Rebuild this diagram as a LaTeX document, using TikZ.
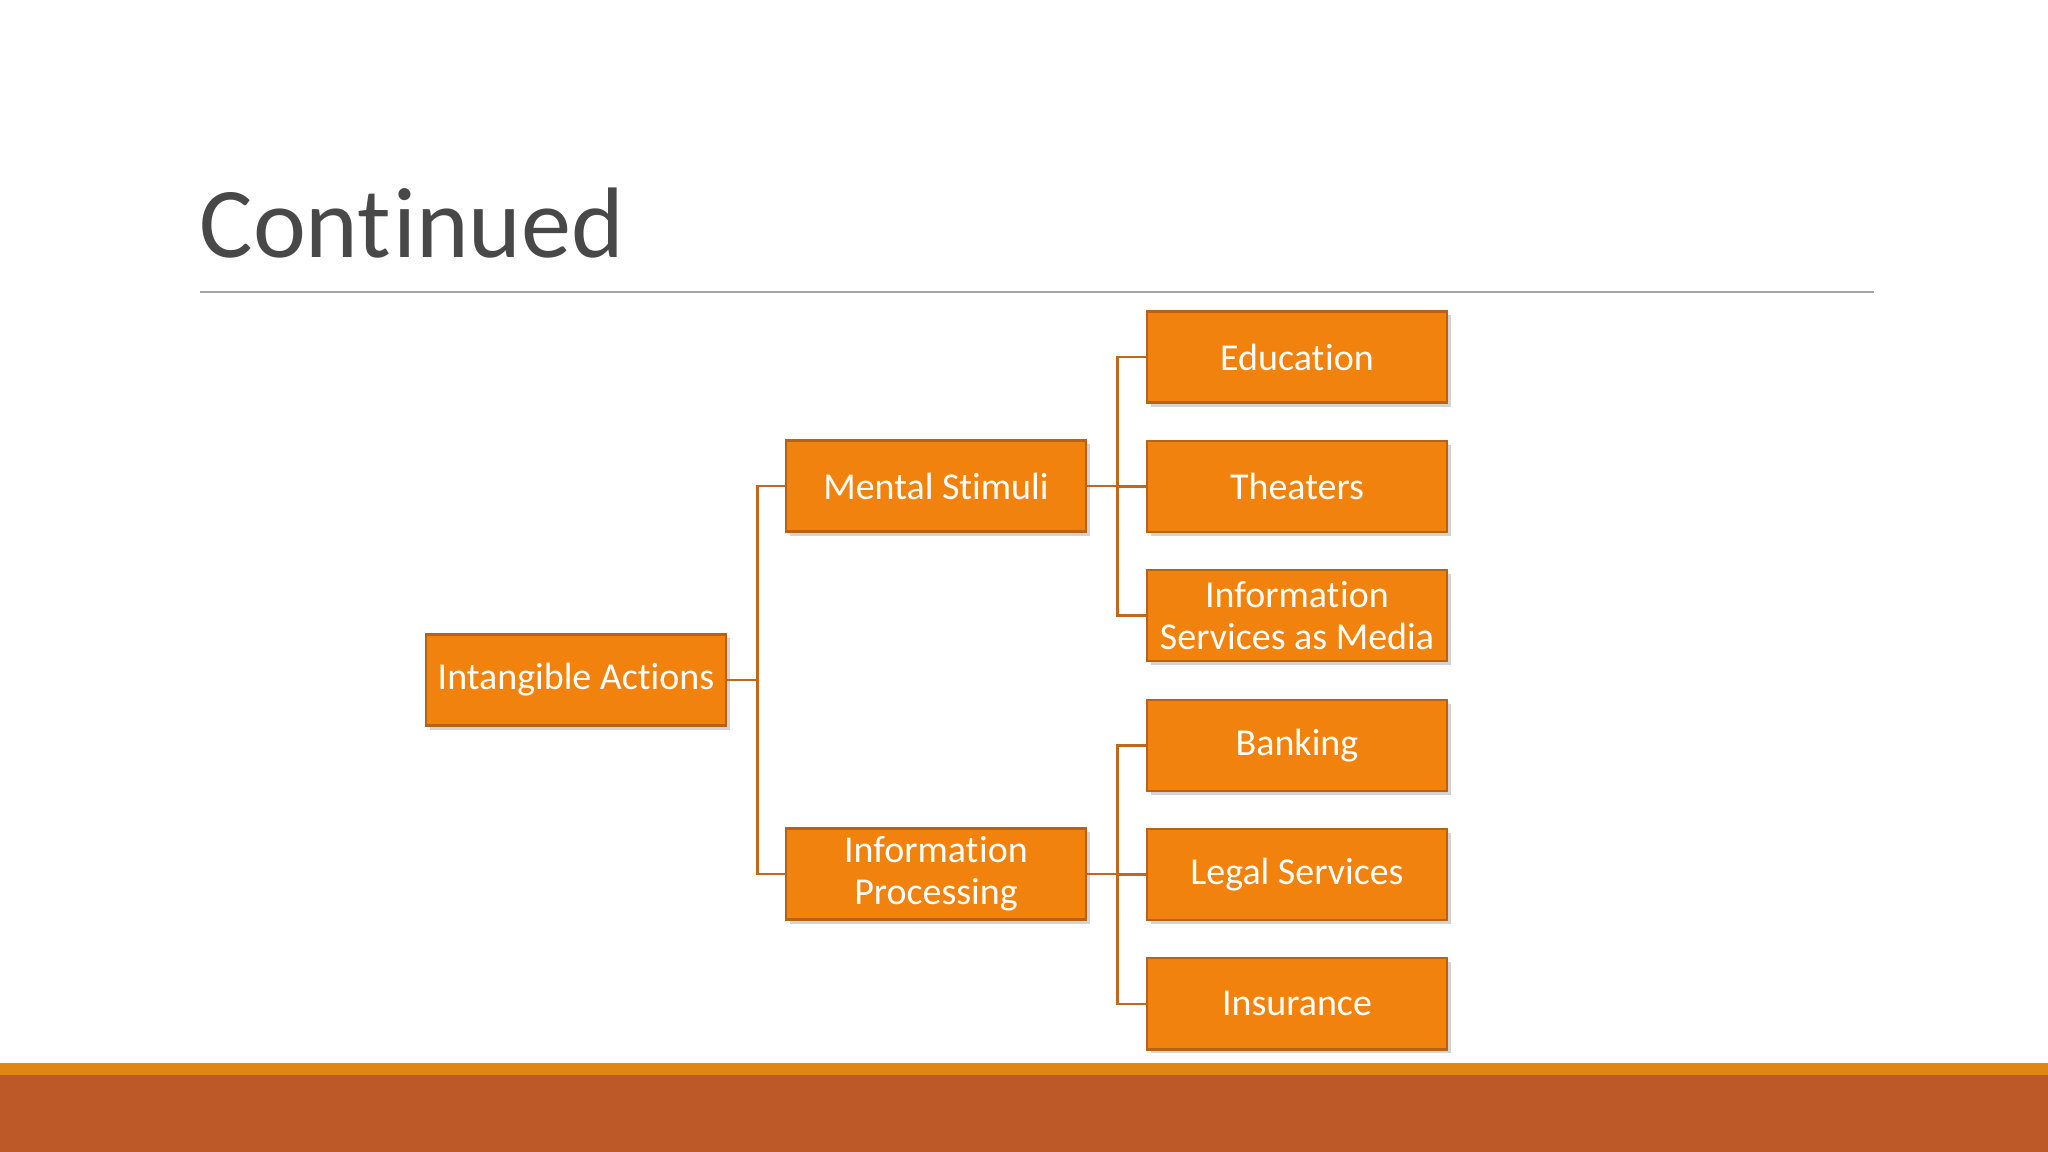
\documentclass[tikz,border=0pt]{standalone}
\usepackage{fontspec}
\setmainfont[Ligatures={NoCommon,NoRequired,NoContextual,NoRare},RawFeature={-ccmp;-rlig}]{Carlito}
\usepackage{tikz}
\usetikzlibrary{calc, arrows.meta, positioning, shadows}

\definecolor{boxfill}{RGB}{242,130,14}
\definecolor{boxline}{RGB}{185,98,22}
\definecolor{linkcol}{RGB}{192,104,30}
\definecolor{titlegray}{RGB}{72,72,72}
\definecolor{rulegray}{RGB}{165,165,165}
\definecolor{barorange}{RGB}{224,134,18}
\definecolor{barrust}{RGB}{189,89,40}

% keep "t" and "i" apart
\newcommand{\tsep}{\kern0.02em}

\begin{document}
\begin{tikzpicture}[x=0.01cm, y=-0.01cm,
    block/.style={draw=boxline, line width=0.6pt, rectangle, fill=boxfill,
                  drop shadow={shadow xshift=0.04cm, shadow yshift=-0.04cm, opacity=0.35},
                  minimum height=0.91cm, minimum width=3.0cm,
                  align=center, text=white, inner sep=1pt,
                  font=\fontsize{10.8}{12}\selectfont},
    link/.style={draw=linkcol, line width=0.8pt},
    node distance=0.362cm
  ]
  \useasboundingbox (0,0) rectangle (2048,1152);

  % title and rule
  \node[anchor=base west, inner sep=0pt, text=titlegray,
        font=\fontsize{28.5}{30}\selectfont] (title) at (199,258) {Cont\tsep inued};
  \draw[rulegray, line width=0.5pt] (200,292) -- (1874,292);

  % bottom bars
  \fill[barorange] (0,1063) rectangle (2048,1075);
  \fill[barrust] (0,1075) rectangle (2048,1152);

  % blocks
  \node[block] (ia) at (576,680) {Intangible Actions};
  \node[block] (ms) at (936,486) {Mental Stimuli};
  \node[block] (ip) at (936,874) {Informat\tsep ion\\Processing};

  \node[block] (edu) at (1297,357) {Educat\tsep ion};
  \node[block, below=of edu] (thr) {Theaters};
  \node[block, below=of thr] (isv) {Informat\tsep ion\\Services as Media};
  \node[block, below=of isv] (bank) {Banking};
  \node[block, below=of bank] (legal) {Legal Services};
  \node[block, below=of legal] (ins) {Insurance};

  % ia -> ms, ip
  \draw[link] (ia.east) -- ++(30,0) |- (ms.west);
  \draw[link] (ia.east) -- ++(30,0) |- (ip.west);

  % ms -> children
  \foreach \c in {edu, thr, isv}
    \draw[link] (ms.east) -- ++(30,0) |- (\c.west);

  % ip -> children
  \foreach \c in {bank, legal, ins}
    \draw[link] (ip.east) -- ++(30,0) |- (\c.west);
\end{tikzpicture}
\end{document}
